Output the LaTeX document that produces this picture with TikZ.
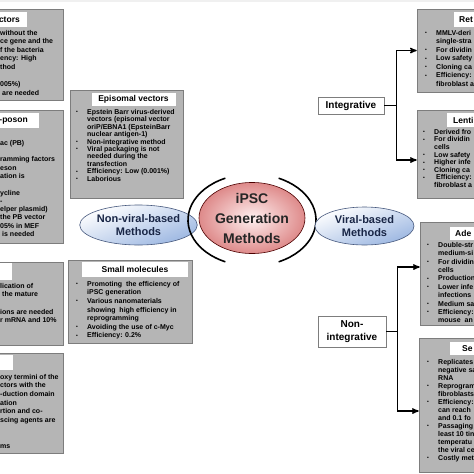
\documentclass[tikz,border=0pt]{standalone}
\usepackage{fontspec}
\setmainfont{Liberation Sans}
\usepackage{tikz}
\usetikzlibrary{shapes,arrows,positioning}
\definecolor{boxgray}{RGB}{181,181,181}
\definecolor{boxedge}{RGB}{125,125,125}
\definecolor{ovalblue}{RGB}{155,182,225}
\definecolor{ovaledge}{RGB}{70,88,125}
\definecolor{navy}{RGB}{25,38,70}
\definecolor{rosy}{RGB}{222,138,138}
\newcommand{\bodyfont}[1]{\fontsize{7}{#1}\selectfont\bfseries}
\newcommand{\itemdot}{\makebox[11pt][l]{\raisebox{0.6pt}{\fontsize{5}{5}\selectfont\textbullet}}}
\newcommand{\itemgap}{\hspace*{11pt}}

\begin{document}
\begin{tikzpicture}[x=1pt,y=-1pt,>=stealth']
\tikzstyle{graybox}=[draw=boxedge,fill=boxgray,line width=0.6pt,inner sep=0pt]
\tikzstyle{headbox}=[fill=white,inner sep=0pt]
\tikzstyle{head}=[font=\fontsize{8.5}{10}\selectfont\bfseries,inner sep=0pt]
\tikzstyle{body}=[align=left,inner sep=0pt,anchor=north west]
\tikzstyle{kind}=[draw=boxedge,fill=white,line width=0.6pt,font=\fontsize{10}{13}\selectfont\bfseries,align=center,inner sep=0pt]
\tikzstyle{oval}=[ellipse,draw=ovaledge,line width=0.6pt,top color=white,bottom color=ovalblue,shading angle=20,font=\fontsize{11}{13}\selectfont\bfseries,text=navy,align=center,inner sep=0pt]
\tikzstyle{core}=[ellipse,draw=red!30!black,line width=0.6pt,inner color=red!6,outer color=rosy,font=\fontsize{14}{20}\selectfont\bfseries,text=black!85,align=center,inner sep=0pt]
\tikzstyle{ring}=[line width=1.6pt,line cap=round]
\tikzstyle{link}=[line width=1.3pt]

\fill[white] (0,0) rectangle (474,474);
\useasboundingbox (0,0) rectangle (474,474);
\fill[gray!12] (0,0) rectangle (474,2);

% left column, cut at the page edge
\node[graybox,minimum width=123pt,minimum height=91pt] (Plas) at (1.5,54.5) {};
\node[headbox,minimum width=67pt,minimum height=15pt] (PlasH) at (-6.5,19.5) {};
\node[head,anchor=east] (PlasT) at (20,19.5) {ctors};
\node[body,font={\bodyfont{8.57}}] (PlasB) at (0,30) {without the\\ce gene and the\\f the bacteria\\ency: High\\thod\\\mbox{}\\005\%)\\\hspace*{2pt}are needed};

\node[graybox,minimum width=123pt,minimum height=133pt] (Tran) at (1.5,176.5) {};
\node[headbox,minimum width=79pt,minimum height=15pt] (TranH) at (-0.5,120.5) {};
\node[head,anchor=east] (TranT) at (28,121) {-poson};
\node[body,font={\bodyfont{8.3}}] (TranB) at (0,140) {ac (PB)\\\mbox{}\\ramming factors\\eson\\ation is\\\mbox{}\\ycline\\-\\elper plasmid)\\the PB vector\\05\% in MEF\\\hspace*{2pt}is needed};

\node[graybox,minimum width=123pt,minimum height=83pt] (Mrna) at (1.5,303.5) {};
\node[headbox,minimum width=52pt,minimum height=17pt] (MrnaH) at (-14,271.5) {};
\node[body,font={\bodyfont{8.6}}] (MrnaB) at (0,283) {lication of\\\hspace*{2pt}the mature\\\mbox{}\\ions are needed\\r mRNA and 10\%};

\node[graybox,minimum width=123pt,minimum height=100pt] (Prot) at (1.5,403) {};
\node[headbox,minimum width=53pt,minimum height=15pt] (ProtH) at (-13.5,362.5) {};
\node[body,font={\bodyfont{8.6}}] (ProtB) at (0,374) {oxy termini of the\\ctors with the\\-duction domain\\ation\\rtion and co-\\scing agents are\\\mbox{}\\\mbox{}\\ms};

% non-viral boxes
\node[graybox,minimum width=113pt,minimum height=108pt] (Epi) at (126.5,144) {};
\node[headbox,head,minimum width=84pt,minimum height=13pt] (EpiH) at (133.5,99.5) {Episomal vectors};
\node[body,font={\bodyfont{7.45}}] (EpiB) at (76,109) {\itemdot Epstein Barr virus-derived\\\itemgap vectors (episomal vector\\\itemgap oriP/EBNA1 (EpsteinBarr\\\itemgap nuclear antigen-1)\\\itemdot Non-integrative method\\\itemdot Viral packaging is not\\\itemgap needed during the\\\itemgap transfection\\\itemdot Efficiency: Low (0.001\%)\\\itemdot Laborious};

\node[graybox,minimum width=124pt,minimum height=83pt] (SM) at (130,301.5) {};
\node[headbox,head,minimum width=106pt,minimum height=15pt] (SMH) at (135,269.5) {Small molecules};
\node[body,font={\bodyfont{8.6}}] (SMB) at (76,281) {\itemdot Promoting\ \ the efficiency of\\\itemgap iPSC generation\\\itemdot Various nanomaterials\\\itemgap showing\ \ high efficiency in\\\itemgap reprogramming\\\itemdot Avoiding the use of c-Myc\\\itemdot Efficiency: 0.2\%};

% centre
\node[oval,minimum width=103pt,minimum height=40pt] (NV) at (138.5,225) {Non-viral-based\\Methods};
\node[core,minimum width=106pt,minimum height=71pt] (Core) at (252,218) {iPSC\\Generation\\Methods};
\coordinate (Hub) at (252,220);
\draw[ring] (Hub) ++(115:64pt and 46pt) arc (115:245:64pt and 46pt);
\draw[ring] (Hub) ++(-65:64pt and 46pt) arc (-65:65:64pt and 46pt);
\node[oval,minimum width=99pt,minimum height=38pt] (V) at (364.5,226) {Viral-based\\Methods};

\node[kind,minimum width=66pt,minimum height=17pt] (Int) at (351,105.5) {Integrative};
\node[kind,minimum width=68pt,minimum height=31pt] (NInt) at (352,331.5) {Non-\\integrative};

% viral boxes, cut at the page edge
\node[graybox,minimum width=123pt,minimum height=83pt] (Retro) at (478.5,50.5) {};
\node[headbox,minimum width=86pt,minimum height=15pt] (RetroH) at (497,19.5) {};
\node[head,anchor=west] (RetroT) at (459,19.5) {Ret};
\node[body,font={\bodyfont{8.5}}] (RetroB) at (425,30) {\itemdot MMLV-deri\\\itemgap single-stra\\\itemdot For dividin\\\itemdot Low safety\\\itemdot Cloning ca\\\itemdot Efficiency:\\\itemgap fibroblast a};

\node[graybox,minimum width=123pt,minimum height=88pt] (Lenti) at (478.5,154) {};
\node[headbox,minimum width=93pt,minimum height=14pt] (LentiH) at (493.5,120) {};
\node[head,anchor=west] (LentiT) at (453,120) {Lenti};
\node[body,font={\bodyfont{7.6}}] (LentiB) at (423,129) {\itemdot Derived fro\\\itemdot For dividin\\\itemgap cells\\\itemdot Low safety\\\itemdot Higher infe\\\itemdot Cloning ca\\\itemdot \hspace*{2pt}Efficiency:\\\itemgap fibroblast a};

\node[graybox,minimum width=120pt,minimum height=103pt] (Adeno) at (480,273.5) {};
\node[headbox,minimum width=90pt,minimum height=13pt] (AdenoH) at (495,233.5) {};
\node[head,anchor=west] (AdenoT) at (455,233.5) {Ade};
\node[body,font={\bodyfont{8.4}}] (AdenoB) at (427,242) {\itemdot Double-str\\\itemgap medium-si\\\itemdot For dividin\\\itemgap cells\\\itemdot Production\\\itemdot Lower infe\\\itemgap infections\\\itemdot Medium sa\\\itemdot Efficiency:\\\itemgap mouse\ \ an};

\node[graybox,minimum width=121pt,minimum height=134pt] (Sendai) at (479.5,405) {};
\node[headbox,minimum width=90pt,minimum height=13pt] (SendaiH) at (495,348.5) {};
\node[head,anchor=west] (SendaiT) at (462,348.5) {Se};
\node[body,font={\bodyfont{8.0}}] (SendaiB) at (427,359) {\itemdot Replicates\\\itemgap negative sa\\\itemgap RNA\\\itemdot Reprogram\\\itemgap fibroblasts\\\itemdot Efficiency:\\\itemgap can reach\\\itemgap and 0.1 fo\\\itemdot Passaging\\\itemgap least 10 tin\\\itemgap temperatu\\\itemgap the viral ce\\\itemdot Costly met};

% connectors
\draw[link] (Int.east) -- ++(12,0) coordinate (IntJ);
\draw[link,->] (IntJ) |- (Retro.west);
\draw[link,->] (IntJ) |- ([yshift=-6pt]Lenti.west);
\draw[link] (NInt.east) -- ++(11,0) coordinate (NIntJ);
\draw[link,->] (NIntJ) |- ([yshift=6.5pt]Adeno.west);
\draw[link,->] (NIntJ) |- ([yshift=-6pt]Sendai.west);
\end{tikzpicture}
\end{document}
